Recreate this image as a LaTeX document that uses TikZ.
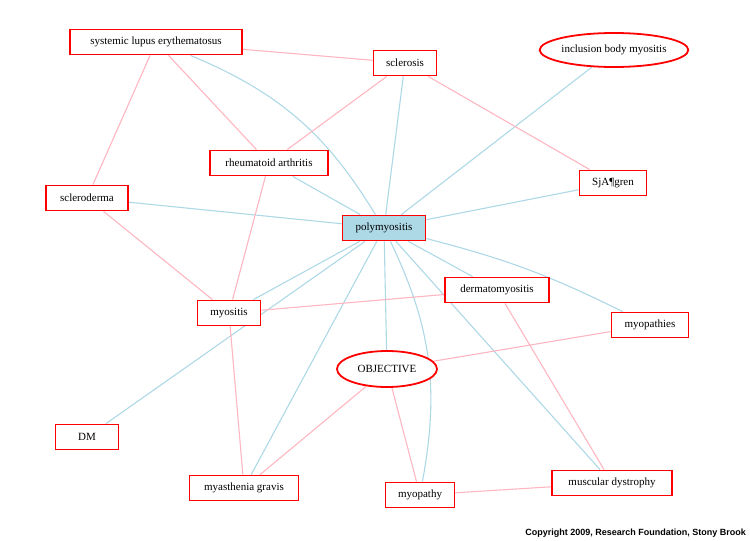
\documentclass[tikz,border=0pt]{standalone}
\usepackage{fontspec}
\setmainfont{Liberation Serif}
\newfontfamily\cpfont{Liberation Sans}
\usetikzlibrary{shapes.geometric}
\begin{document}
\begin{tikzpicture}[x=1pt,y=-1pt,
 bx/.style={draw=red,line width=1.8pt,fill=white,inner sep=0pt,minimum height=25pt,font=\fontsize{11}{13}\selectfont},
 el/.style={ellipse,draw=red,line width=1.8pt,fill=white,inner sep=0pt,font=\fontsize{11}{13}\selectfont},
 bl/.style={line width=1.1pt,draw={rgb,255:red,173;green,216;blue,230}},
 pk/.style={line width=1.1pt,draw={rgb,255:red,255;green,182;blue,193}}]
\useasboundingbox (0,0) rectangle (750,541);
\node[bx,minimum width=172pt] (sle) at (156,42) {systemic lupus erythematosus};
\node[bx,minimum width=63pt] (scl) at (405,63) {sclerosis};
\node[el,minimum width=148pt,minimum height=34pt] (ibm) at (614,50) {inclusion body myositis};
\node[bx,minimum width=118pt] (ra) at (269,163) {rheumatoid arthritis};
\node[bx,minimum width=82pt] (sd) at (87,198) {scleroderma};
\node[bx,minimum width=67pt] (sj) at (613,183) {SjA¶gren};
\node[bx,minimum width=83pt,fill={rgb,255:red,173;green,216;blue,230}] (pm) at (384,228) {polymyositis};
\node[bx,minimum width=104pt] (dm) at (497,290) {dermatomyositis};
\node[bx,minimum width=63pt] (my) at (229,313) {myositis};
\node[bx,minimum width=77pt] (mp) at (650,325) {myopathies};
\node[el,minimum width=100pt,minimum height=36pt] (ob) at (387,369) {OBJECTIVE};
\node[bx,minimum width=63pt] (DM) at (87,437) {DM};
\node[bx,minimum width=109pt] (mg) at (244,488) {myasthenia gravis};
\node[bx,minimum width=69pt] (mpy) at (420,495) {myopathy};
\node[bx,minimum width=120pt] (md) at (612,483) {muscular dystrophy};
\pgfdeclarelayer{bg}\pgfsetlayers{bg,main}
\begin{pgfonlayer}{bg}
\draw[bl] (pm) to[bend right=18] (sle);
\draw[bl] (pm) -- (scl);
\draw[bl] (pm) -- (ibm);
\draw[bl] (pm) -- (ra);
\draw[bl] (pm) -- (sd);
\draw[bl] (pm) -- (sj);
\draw[bl] (pm) -- (dm);
\draw[bl] (pm) to[bend left=6] (mp);
\draw[bl] (pm) -- (my);
\draw[bl] (pm) -- (DM);
\draw[bl] (pm) -- (mg);
\draw[bl] (pm) -- (ob);
\draw[bl] (pm) to[bend left=18] (mpy);
\draw[bl] (pm) -- (md);
\draw[pk] (sle) -- (scl);
\draw[pk] (sle) -- (sd);
\draw[pk] (sle) -- (ra);
\draw[pk] (scl) -- (ra);
\draw[pk] (scl) -- (sj);
\draw[pk] (sd) -- (my);
\draw[pk] (ra) -- (my);
\draw[pk] (my) -- (dm);
\draw[pk] (my) -- (mg);
\draw[pk] (dm) -- (md);
\draw[pk] (mp) -- (ob);
\draw[pk] (ob) -- (mg);
\draw[pk] (ob) -- (mpy);
\draw[pk] (mpy) -- (md);
\end{pgfonlayer}
\node[anchor=east,font=\cpfont\bfseries\fontsize{9}{11}\selectfont,inner sep=0pt] (cp) at (746,533) {Copyright 2009, Research Foundation, Stony Brook};
\end{tikzpicture}
\end{document}
